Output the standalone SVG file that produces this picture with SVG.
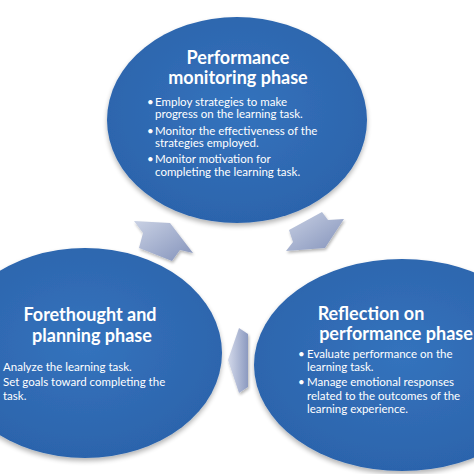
<svg xmlns="http://www.w3.org/2000/svg" width="474" height="474" viewBox="0 0 474 474">
<defs>
<radialGradient id="blue" cx="50%" cy="45%" r="55%">
<stop offset="0" stop-color="#3473bd"/>
<stop offset="1" stop-color="#2c64ac"/>
</radialGradient>
<linearGradient id="arrowG" x1="0" y1="0" x2="1" y2="1">
<stop offset="0" stop-color="#c9d1e4"/>
<stop offset="1" stop-color="#8493bb"/>
</linearGradient>
<linearGradient id="arrowL" x1="0" y1="0" x2="1" y2="0">
<stop offset="0" stop-color="#d3d9ea"/>
<stop offset="1" stop-color="#8c9ac0"/>
</linearGradient>
<filter id="sh" x="-20%" y="-20%" width="140%" height="150%">
<feGaussianBlur in="SourceAlpha" stdDeviation="2.5"/>
<feOffset dx="0" dy="3" result="b"/>
<feComponentTransfer><feFuncA type="linear" slope="0.3"/></feComponentTransfer>
<feMerge><feMergeNode/><feMergeNode in="SourceGraphic"/></feMerge>
</filter>
<filter id="ash" x="-20%" y="-20%" width="140%" height="150%">
<feGaussianBlur in="SourceAlpha" stdDeviation="1.5"/>
<feOffset dx="1" dy="2"/>
<feComponentTransfer><feFuncA type="linear" slope="0.3"/></feComponentTransfer>
<feMerge><feMergeNode/><feMergeNode in="SourceGraphic"/></feMerge>
</filter>
</defs>
<style>
.ell{fill:url(#blue);filter:url(#sh);}
.t{font-family:Lato,"Open Sans",sans-serif;font-weight:bold;font-size:18px;fill:#ffffff;text-anchor:middle;}
.b{font-family:Lato,"Open Sans",sans-serif;font-size:11.5px;fill:#ffffff;}
</style>
<rect width="474" height="474" fill="#ffffff"/>
<g id="connectors">
<polygon points="134,221 170,223 193,253 180,250 172,261 139,248 143,233" fill="url(#arrowG)" filter="url(#ash)"/>
<polygon points="289,230 322,212 328,220 344,219 325,248 286,251 293,242" fill="url(#arrowG)" filter="url(#ash)"/>
<polygon points="248,334 239,328 228,360 239,393 248,387" fill="url(#arrowL)" filter="url(#ash)"/>
</g>
<g id="node-performance">
<ellipse class="ell" cx="237" cy="120" rx="130" ry="103"/>
<text class="t" x="238" y="64">Performance</text>
<text class="t" x="238" y="84">monitoring phase</text>
<text class="b" x="147" y="106">•</text>
<text class="b" x="155" y="106">Employ strategies to make</text>
<text class="b" x="155" y="118">progress on the learning task.</text>
<text class="b" x="147" y="135">•</text>
<text class="b" x="155" y="135">Monitor the effectiveness of the</text>
<text class="b" x="155" y="147">strategies employed.</text>
<text class="b" x="147" y="163">•</text>
<text class="b" x="155" y="163">Monitor motivation for</text>
<text class="b" x="155" y="176">completing the learning task.</text>
</g>
<g id="node-forethought">
<ellipse class="ell" cx="85" cy="353" rx="137" ry="105"/>
<text class="t" x="90" y="321">Forethought and</text>
<text class="t" x="92" y="342">planning phase</text>
<text class="b" x="3" y="371">Analyze the learning task.</text>
<text class="b" x="3" y="386">Set goals toward completing the</text>
<text class="b" x="3" y="400">task.</text>
</g>
<g id="node-reflection">
<ellipse class="ell" cx="402" cy="365" rx="148" ry="106"/>
<text class="t" x="371" y="320">Reflection on</text>
<text class="t" x="396" y="340">performance phase</text>
<text class="b" x="298" y="358">•</text>
<text class="b" x="307" y="358">Evaluate performance on the</text>
<text class="b" x="307" y="371">learning task.</text>
<text class="b" x="298" y="386">•</text>
<text class="b" x="307" y="386">Manage emotional responses</text>
<text class="b" x="307" y="400">related to the outcomes of the</text>
<text class="b" x="307" y="413">learning experience.</text>
</g>
</svg>
